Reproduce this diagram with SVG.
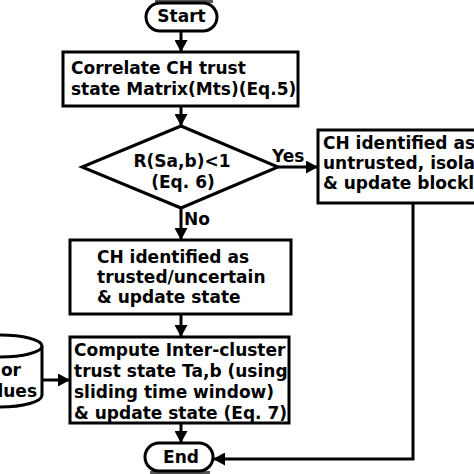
<svg xmlns="http://www.w3.org/2000/svg" width="474" height="474" viewBox="0 0 474 474">
<style>
.box{fill:#fff;stroke:#000;stroke-width:3}
.t{font-family:"DejaVu Sans",sans-serif;font-weight:bold;font-size:17px;fill:#000}
.c{text-anchor:middle}
.ln{fill:none;stroke:#000;stroke-width:3}
</style>
<defs>
<marker id="ah" markerWidth="12" markerHeight="13" refX="12" refY="6.5" orient="auto" markerUnits="userSpaceOnUse">
<path d="M0,0 L12,6.5 L0,13 Z" fill="#000"/>
</marker>
</defs>
<rect width="474" height="474" fill="#fff"/>
<rect x="155" y="0" width="58" height="3" fill="#555"/>
<rect x="150" y="471" width="60" height="3" fill="#555"/>
<g id="connectors">
<line class="ln" x1="181" y1="31" x2="181" y2="52" marker-end="url(#ah)"/>
<line class="ln" x1="181" y1="106" x2="181" y2="126" marker-end="url(#ah)"/>
<line class="ln" x1="278" y1="167" x2="318" y2="167" marker-end="url(#ah)"/>
<line class="ln" x1="181" y1="208" x2="181" y2="240" marker-end="url(#ah)"/>
<line class="ln" x1="181" y1="314" x2="181" y2="337" marker-end="url(#ah)"/>
<line class="ln" x1="181" y1="423" x2="181" y2="443" marker-end="url(#ah)"/>
<line class="ln" x1="42" y1="380" x2="70" y2="380" marker-end="url(#ah)"/>
<polyline class="ln" points="413,203 413,459 213,459" marker-end="url(#ah)"/>
<text class="t" x="272" y="162">Yes</text>
<text class="t" x="184" y="225">No</text>
</g>
<g id="start">
<rect class="box" x="146" y="3" width="71" height="28" rx="14"/>
<text class="t c" x="181.5" y="22">Start</text>
</g>
<g id="correlate">
<rect class="box" x="63" y="52" width="235" height="54"/>
<text class="t" x="71" y="74">Correlate CH trust</text>
<text class="t" x="71" y="95">state Matrix(Mts)(Eq.5)</text>
</g>
<g id="decision">
<polygon class="box" points="181,126 278,167 181,208 82,167"/>
<text class="t c" x="182" y="167">R(Sa,b)&lt;1</text>
<text class="t c" x="183" y="188">(Eq. 6)</text>
</g>
<g id="untrusted">
<rect class="box" x="318" y="130" width="170" height="73"/>
<text class="t" x="323" y="149">CH identified as</text>
<text class="t" x="323" y="169">untrusted, isola</text>
<text class="t" x="323" y="189">&amp; update blockl</text>
</g>
<g id="trusted">
<rect class="box" x="70" y="240" width="221" height="74"/>
<text class="t" x="97" y="263">CH identified as</text>
<text class="t" x="97" y="283">trusted/uncertain</text>
<text class="t" x="97" y="303">&amp; update state</text>
</g>
<g id="compute">
<rect class="box" x="70" y="337" width="219" height="86"/>
<text class="t" x="74" y="356">Compute Inter-cluster</text>
<text class="t" x="74" y="377">trust state Ta,b (using</text>
<text class="t" x="74" y="398">sliding time window)</text>
<text class="t" x="74" y="419">&amp; update state (Eq. 7)</text>
</g>
<g id="datastore">
<path class="box" d="M-42,346 A42,11 0 0 1 42,346 L42,395 A42,12 0 0 1 -42,395 Z"/>
<path class="ln" d="M-42,346 A42,11 0 0 0 42,346"/>
<text class="t" x="21" y="376" text-anchor="end">or</text>
<text class="t" x="37" y="397" text-anchor="end">lues</text>
</g>
<g id="end">
<rect class="box" x="145" y="443" width="68" height="28" rx="14"/>
<text class="t c" x="181" y="463">End</text>
</g>
</svg>
